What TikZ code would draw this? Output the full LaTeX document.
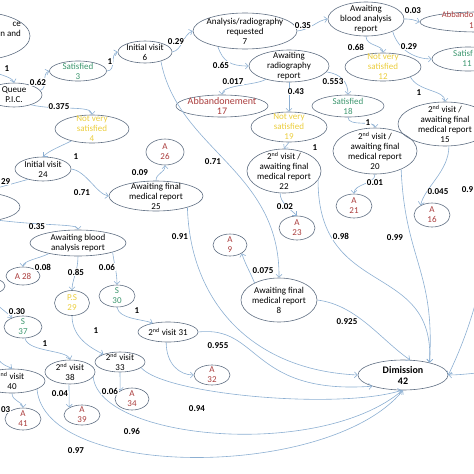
\documentclass[tikz,border=0pt]{standalone}
\usepackage{fontspec}
\setmainfont{Carlito}
\usetikzlibrary{shapes.geometric,arrows.meta}
\definecolor{edge}{RGB}{140,175,210}
\definecolor{rim}{RGB}{95,110,130}
\definecolor{abred}{RGB}{170,60,60}
\definecolor{satgreen}{RGB}{60,150,110}
\definecolor{nvsyellow}{RGB}{235,205,60}
\tikzset{
  ell/.style={ellipse, draw=rim, line width=0.6pt, inner sep=0pt},
  txt/.style={font=\fontsize{9}{10}\selectfont, align=center, inner sep=0pt},
  lbl/.style={font=\fontsize{9}{10}\selectfont\bfseries, fill=white, inner sep=0.5pt},
  conn/.style={draw=edge, line width=0.6pt, -{Straight Barb[length=3pt,width=6pt]}},
}
\begin{document}
\begin{tikzpicture}[x=1pt,y=-1pt]
\useasboundingbox (0,0) rectangle (474,474);
\clip (0,0) rectangle (474,474);

% states, positions in pixels from the top left corner
\node[ell, minimum width=104, minimum height=48] (n1) at (-22,36) {};
\node[txt, align=right, anchor=east] (n1t) at (21,29) {ce\\n and};
\node[ell, minimum width=56, minimum height=24, label={[txt]center:{Queue\\P.I.C.}}] (n2) at (14,95) {};
\node[ell, minimum width=57, minimum height=20, label={[txt,text=satgreen]center:{Satisfied\\3}}] (n3) at (78,71) {};
\node[ell, minimum width=74, minimum height=28, label={[txt,text=nvsyellow]center:{Not very\\satisfied\\4}}] (n4) at (92,129) {};
\node[ell, minimum width=54, minimum height=22, label={[txt]center:{Initial visit\\6}}] (n6) at (145,52) {};
\node[ell, minimum width=104, minimum height=36, label={[txt]center:{Analysis/radiography\\requested\\7}}] (n7) at (245,31) {};
\node[ell, minimum width=76, minimum height=34, label={[txt]center:{Awaiting\\blood analysis\\report}}] (n5) at (366,19) {};
\node[ell, minimum width=116, minimum height=20] (n10) at (478,22) {};
\node[txt, text=abred, font=\fontsize{8.5}{10}\selectfont, anchor=east] (n10a) at (473.5,15) {Abbando};
\node[txt, text=abred, anchor=east] (n10b) at (474,26) {1};
\node[ell, minimum width=72, minimum height=24] (n11) at (468,59) {};
\node[txt, text=satgreen, anchor=west] (n11a) at (453,53) {Satisf};
\node[txt, text=satgreen] (n11b) at (467,64) {11};
\node[ell, minimum width=80, minimum height=32, label={[txt]center:{Awaiting\\radiography\\report}}] (n13) at (289,66) {};
\node[ell, minimum width=76, minimum height=28, label={[txt,text=nvsyellow]center:{Not very\\satisfied\\12}}] (n12) at (383,67) {};
\node[ell, minimum width=92, minimum height=22, label={[txt,text=abred,font=\fontsize{10}{10}\selectfont]center:{Abbandonement\\17}}] (n17) at (222,106) {};
\node[ell, minimum width=72, minimum height=22, label={[txt,text=satgreen]center:{Satisfied\\18}}] (n18) at (348,106) {};
\node[ell, minimum width=76, minimum height=30, label={[txt,text=nvsyellow]center:{Not very\\satisfied\\19}}] (n19) at (289,127) {};
\node[ell, minimum width=94, minimum height=44, label={[txt]center:{2\textsuperscript{nd} visit /\\awaiting final\\medical report\\15}}] (n15) at (445,124) {};
\node[ell, minimum width=84, minimum height=46, label={[txt]center:{2\textsuperscript{nd} visit /\\awaiting final\\medical report\\20}}] (n20) at (375,151) {};
\node[ell, minimum width=74, minimum height=44, label={[txt]center:{2\textsuperscript{nd} visit /\\awaiting final\\medical report\\22}}] (n22) at (284,171) {};
\node[ell, minimum width=36, minimum height=24, label={[txt,text=abred]center:{A\\21}}] (n21) at (354,206) {};
\node[ell, minimum width=36, minimum height=24, label={[txt,text=abred]center:{A\\16}}] (n16) at (432,215) {};
\node[ell, minimum width=36, minimum height=24, label={[txt,text=abred]center:{A\\23}}] (n23) at (297,228) {};
\node[ell, minimum width=38, minimum height=26, label={[txt,text=abred]center:{A\\26}}] (n26) at (165,152) {};
\node[ell, minimum width=56, minimum height=24, label={[txt]center:{Initial visit\\24}}] (n24) at (43,169) {};
\node[ell, minimum width=94, minimum height=30, label={[txt]center:{Awaiting final\\medical report\\25}}] (n25) at (156,196) {};
\node[ell, minimum width=90, minimum height=30] (nL) at (-25,207) {};
\node[ell, minimum width=34, minimum height=22, label={[txt,text=abred]center:{A\\9}}] (n9) at (230,245) {};
\node[ell, minimum width=76, minimum height=44, label={[txt]center:{Awaiting final\\medical report\\8}}] (n8) at (279,300) {};
\node[ell, minimum width=96, minimum height=26, label={[txt]center:{Awaiting blood\\analysis report}}] (nb2) at (78,243) {};
\node[ell, minimum width=34, minimum height=18, label={[txt,text=abred]center:{A 28}}] (n28) at (23,276) {};
\node[ell, minimum width=35, minimum height=25, label={[txt,text=nvsyellow]center:{P.S\\29}}] (n29) at (72,303) {};
\node[ell, minimum width=36, minimum height=22, label={[txt,text=satgreen]center:{S\\30}}] (n30) at (117,296) {};
\node[ell, minimum width=34, minimum height=16] (nS) at (-12,286) {};
\node[ell, minimum width=60, minimum height=20, label={[txt]center:{2\textsuperscript{nd} visit 31}}] (n31) at (168,332) {};
\node[ell, minimum width=36, minimum height=20, label={[txt,text=abred]center:{A\\32}}] (n32) at (212,375) {};
\node[ell, minimum width=38, minimum height=22, label={[txt,text=satgreen]center:{S\\37}}] (n37) at (23,327) {};
\node[ell, minimum width=50, minimum height=20, label={[txt]center:{2\textsuperscript{nd} visit\\33}}] (n33) at (120,362) {};
\node[ell, minimum width=50, minimum height=24, label={[txt]center:{2\textsuperscript{nd} visit\\38}}] (n38) at (70,372) {};
\node[ell, minimum width=66, minimum height=24] (n40) at (12,381) {};
\node[txt, anchor=west] (n40a) at (0.5,376) {\textsuperscript{nd} visit};
\node[txt] (n40b) at (12,387) {40};
\node[ell, minimum width=34, minimum height=22, label={[txt,text=abred]center:{A\\34}}] (n34) at (132,399) {};
\node[ell, minimum width=36, minimum height=20, label={[txt,text=abred]center:{A\\39}}] (n39) at (82,415) {};
\node[ell, minimum width=36, minimum height=22, label={[txt,text=abred]center:{A\\41}}] (n41) at (23,419) {};
\node[ell, minimum width=90, minimum height=30, label={[txt,font=\fontsize{10}{11}\selectfont\bfseries]center:{Dimission\\42}}] (n42) at (403,375) {};
\coordinate (oR) at (495,372);

% transitions
\draw[conn] (n1.south) .. controls +(8,14) and +(-2,-8) .. (n2.north);
\draw[conn] (n2.10) .. controls +(8,-2) and +(-8,3) .. (n3.west);
\draw[conn] (n3.east) .. controls +(10,0) and +(-8,2) .. (n6.west);
\draw[conn] (n2.-30) .. controls +(25,6) and +(0,-10) .. (n4.north);
\draw[conn] (n4.-150) .. controls +(-12,6) and +(6,-6) .. (n24.north);
\draw[conn] (n6.east) .. controls +(10,-2) and +(-10,4) .. (n7.west);
\draw[conn] (n7.east) .. controls +(15,-2) and +(-12,2) .. (n5.west);
\draw[conn] (n7.-150) .. controls +(5,15) and +(-18,0) .. (n13.west);
\draw[conn] (n13.-150) .. controls +(-10,6) and +(0,-10) .. (n17.north);
\draw[conn] (n13.south) -- (n19.north);
\draw[conn] (n13.-9) .. controls +(15,2) and +(0,-12) .. (n18.north);
\draw[conn] (n5.east) .. controls +(8,0) and +(-6,-2) .. (n10.west);
\draw[conn] (n5.south) .. controls +(0,10) and +(0,-8) .. (n12.north);
\draw[conn] (n5.-25) .. controls +(6,20) and +(-15,0) .. (n11.west);
\draw[conn] (n12.-20) .. controls +(8,15) and +(0,-12) .. (n15.north);
\draw[conn] (n18.south) .. controls +(0,10) and +(0,-8) .. (n20.north);
\draw[conn] (n19.south) -- (n22.north);
\draw[conn] (n20.south) .. controls +(0,10) and +(0,-10) .. (n21.north);
\draw[conn] (n15.-80) .. controls +(0,25) and +(4,-18) .. (n16.140);
\draw[conn] (n22.-100) .. controls +(0,10) and +(-6,-6) .. (n23.north);
\draw[conn] (n24.east) .. controls +(15,2) and +(-12,-2) .. (n25.west);
\draw[conn] (n25.north) .. controls +(0,-8) and +(0,8) .. (n26.south);
\draw[conn] (n24.-145) .. controls +(-12,3) and +(12,0) .. (nL.north);
\draw[conn] (nL.-30) .. controls +(50,6) and +(0,-6) .. (nb2.north);
\draw[conn] (nL.-100) .. controls +(3,78) and +(-12,-13) .. (n37.140);
\draw[conn] (nb2.-160) .. controls +(-10,5) and +(0,-6) .. (n28.north);
\draw[conn] (nb2.south) .. controls +(0,15) and +(0,-10) .. (n29.north);
\draw[conn] (nb2.-15) .. controls +(2,14) and +(0,-12) .. (n30.north);
\draw[conn] (n30.south) .. controls +(2,12) and +(-10,-4) .. (n31.150);
\draw[conn] (n29.south) .. controls +(0,22) and +(-12,-6) .. (n33.155);
\draw[conn] (n37.-80) .. controls +(3,14) and +(-3,-10) .. (n38.north);
\draw[conn] (n31.-100) .. controls +(0,22) and +(-14,0) .. (n32.west);
\draw[conn] (n33.south) -- (n34.145);
\draw[conn] (n38.-95) -- (n39.150);
\draw[conn] (n40.south) .. controls +(0,8) and +(0,-6) .. (n41.north);
\draw[conn] (nS.south) .. controls +(0,75) and +(-7,-5) .. (n40.north);
\draw[conn] (n6.-30) .. controls (178,150) and (280,170) .. (n8.north);
\draw[conn] (n8.145) .. controls +(-4,-10) and +(3,10) .. (n9.-35);

% into Dimission
\draw[conn] (n8.east) .. controls (357,305) and (381,340) .. (n42.65);
\draw[conn] (n22.-15) .. controls (318,300) and (435,260) .. (n42.25);
\draw[conn] (n20.-35) .. controls (405,260) and (435,270) .. (n42.25);
\draw[conn] (n15.-10) .. controls (500,250) and (470,330) .. (n42.east);
\draw[conn] (oR) .. controls +(-15,0) and +(15,0) .. (n42.east);
\draw[conn] (n25.-20) .. controls (190,300) and (250,370) .. (n42.west);
\draw[conn] (n31.east) .. controls (260,325) and (250,395) .. (n42.-160);
\draw[conn] (n33.-15) .. controls (165,395) and (340,410) .. (n42.-95);
\draw[conn] (n38.-12) .. controls (100,440) and (320,460) .. (n42.-92);
\draw[conn] (n40.-18) .. controls (45,480) and (330,480) .. (n42.-90);

% probabilities
\node[lbl] (l1) at (7,69) {1};
\node[lbl] (l2) at (38,82) {0.62};
\node[lbl] (l3) at (110,62) {1};
\node[lbl] (l4) at (59,107) {0.375};
\node[lbl] (l5) at (176,42) {0.29};
\node[lbl] (l6) at (303,26) {0.35};
\node[lbl] (l7) at (413,11) {0.03};
\node[lbl] (l8) at (356,47) {0.68};
\node[lbl] (l9) at (409,47) {0.29};
\node[lbl] (l10) at (221,65) {0.65};
\node[lbl] (l11) at (233,82) {0.017};
\node[lbl] (l12) at (333,82) {0.553};
\node[lbl] (l13) at (296,92) {0.43};
\node[lbl] (l14) at (419,93) {1};
\node[lbl] (l15) at (368,123) {1};
\node[lbl] (l16) at (315,148) {1};
\node[lbl] (l17) at (76,157) {1};
\node[lbl] (l18) at (140,173) {0.09};
\node[lbl] (l19) at (213,162) {0.71};
\node[lbl] (l20) at (82,193) {0.71};
\node[lbl, anchor=east] (l21) at (11,182) {29};
\node[lbl] (l22) at (375,183) {0.01};
\node[lbl] (l23) at (438,192) {0.045};
\node[lbl, anchor=east] (l24) at (474,190) {0.9};
\node[lbl] (l25) at (285,207) {0.02};
\node[lbl] (l26) at (37,227) {0.35};
\node[lbl] (l27) at (180,237) {0.91};
\node[lbl] (l28) at (341,236) {0.98};
\node[lbl] (l29) at (395,238) {0.99};
\node[lbl] (l30) at (43,267) {0.08};
\node[lbl] (l31) at (76,272) {0.85};
\node[lbl] (l32) at (107,267) {0.06};
\node[lbl] (l33) at (263,271) {0.075};
\node[lbl] (l34) at (17,312) {0.30};
\node[lbl] (l35) at (137,311) {1};
\node[lbl] (l36) at (347,322) {0.925};
\node[lbl] (l37) at (96,331) {1};
\node[lbl] (l38) at (45,344) {1};
\node[lbl] (l39) at (218,346) {0.955};
\node[lbl] (l40) at (110,391) {0.06};
\node[lbl] (l41) at (60,394) {0.04};
\node[lbl, anchor=east] (l42) at (11,410) {03};
\node[lbl] (l43) at (197,409) {0.94};
\node[lbl] (l44) at (132,431) {0.96};
\node[lbl] (l45) at (76,451) {0.97};
\end{tikzpicture}
\end{document}
